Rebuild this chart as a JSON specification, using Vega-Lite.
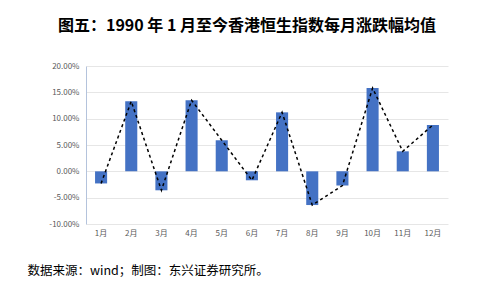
{
  "$schema": "https://vega.github.io/schema/vega-lite/v6.json",
  "autosize": {"type": "none"},
  "width": 362,
  "height": 158,
  "padding": {"left": 86, "top": 66, "right": 36, "bottom": 68},
  "background": "white",
  "config": {
    "view": {"stroke": null},
    "font": "Noto Sans CJK SC",
    "locale": {"number": {"decimal": ".", "thousands": ",", "grouping": [3], "currency": ["$", ""], "minus": "-"}}
  },
  "title": {
    "text": "图五：1990 年 1 月至今香港恒生指数每月涨跌幅均值",
    "font": "Noto Sans CJK SC",
    "fontSize": 16,
    "fontWeight": "bold",
    "color": "#000000",
    "anchor": "middle",
    "dx": -20,
    "offset": 28
  },
  "data": {
    "values": [
      {"month": "1月", "value": -0.023},
      {"month": "2月", "value": 0.133},
      {"month": "3月", "value": -0.036},
      {"month": "4月", "value": 0.135},
      {"month": "5月", "value": 0.059},
      {"month": "6月", "value": -0.017},
      {"month": "7月", "value": 0.112},
      {"month": "8月", "value": -0.064},
      {"month": "9月", "value": -0.027},
      {"month": "10月", "value": 0.158},
      {"month": "11月", "value": 0.038},
      {"month": "12月", "value": 0.088}
    ]
  },
  "encoding": {
    "x": {
      "field": "month",
      "type": "nominal",
      "sort": null,
      "scale": {"paddingInner": 0.6, "paddingOuter": 0.3},
      "axis": {
        "labelAngle": 0,
        "labelFontSize": 8,
        "labelColor": "#595959",
        "labelPadding": 5,
        "domain": false,
        "ticks": false,
        "title": "数据来源：wind；制图：东兴证券研究所。",
        "titleX": -59,
        "titleY": 46,
        "titleAlign": "left",
        "titleAnchor": "start",
        "titleBaseline": "middle",
        "titleFontSize": 12.5,
        "titleFontWeight": "normal",
        "titleColor": "#000000"
      }
    },
    "y": {
      "field": "value",
      "type": "quantitative",
      "scale": {"domain": [-0.1, 0.2], "nice": false},
      "axis": {
        "values": [-0.1, -0.05, 0, 0.05, 0.1, 0.15, 0.2],
        "format": ".2%",
        "labelFontSize": 8,
        "labelColor": "#595959",
        "labelPadding": 7,
        "ticks": false,
        "domainColor": "#B4C3DC",
        "gridColor": "#E6E6E6",
        "title": null
      }
    }
  },
  "layer": [
    {"mark": {"type": "bar", "color": "#4472C4"}},
    {"mark": {"type": "line", "color": "#000000", "strokeWidth": 1.5, "strokeDash": [3, 3]}}
  ]
}
